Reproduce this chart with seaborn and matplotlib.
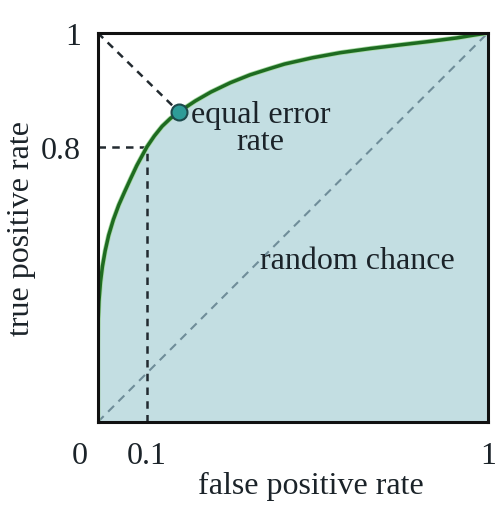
import numpy as np
import pandas as pd
import seaborn as sns
import matplotlib.pyplot as plt
from matplotlib.transforms import ScaledTranslation

# ROC curve (axis fractions)
fpr = [0.0, 0.0, 0.0, 0.001, 0.003, 0.007, 0.012, 0.019, 0.028, 0.040,
       0.054, 0.069, 0.085, 0.100, 0.126, 0.145, 0.165, 0.186, 0.208, 0.250,
       0.290, 0.340, 0.390, 0.440, 0.479, 0.550, 0.621, 0.700, 0.774, 0.850,
       0.920, 0.962, 1.0]
tpr = [0.0, 0.100, 0.200, 0.260, 0.310, 0.360, 0.400, 0.440, 0.480, 0.520,
       0.558, 0.592, 0.627, 0.659, 0.707, 0.735, 0.760, 0.780, 0.797, 0.825,
       0.848, 0.872, 0.892, 0.908, 0.920, 0.936, 0.949, 0.960, 0.969, 0.978,
       0.987, 0.994, 1.0]

# operating point marked by the dashed guides, and the equal error point
op_fpr, op_tpr = 0.126, 0.707
eer_fpr, eer_tpr = 0.208, 0.797

xtick_labels = ['0', '0.1', '1']
ytick_labels = ['0.8', '1']

df = pd.DataFrame({'fpr': fpr, 'tpr': tpr})

sns.set_style('white')
plt.rcParams['font.family'] = ['Liberation Serif', 'DejaVu Serif']
ink = '#1b2329'

fig = plt.figure(figsize=(5.04, 5.06), dpi=100)
ax = fig.add_axes([0.194, 0.164, 0.774, 0.769])

# area under the curve
ax.fill_between(df['fpr'], df['tpr'], 0, color='#c3dee2', zorder=1)

# random chance diagonal
ax.plot([0, 1], [0, 1], ls=(0, (4, 3)), color='#6f8d99', lw=1.5, zorder=2)

# guides to the operating point
ax.plot([0, op_fpr], [op_tpr, op_tpr], ls=(0, (3, 2.5)), color='#222a30', lw=1.8, zorder=3)
ax.plot([op_fpr, op_fpr], [0, op_tpr], ls=(0, (3, 2.5)), color='#222a30', lw=1.8, zorder=3)
ax.plot([0, eer_fpr], [1, eer_tpr], ls=(0, (3, 2.5)), color='#222a30', lw=1.8, zorder=3)

# ROC curve: faint halo under dark green line
sns.lineplot(data=df, x='fpr', y='tpr', ax=ax, sort=False, estimator=None,
             color='#a5d9a2', lw=3.6, zorder=4)
sns.lineplot(data=df, x='fpr', y='tpr', ax=ax, sort=False, estimator=None,
             color='#1e6b21', lw=2.5, zorder=5)

ax.plot([eer_fpr], [eer_tpr], 'o', ms=11.5, mfc='#2e9c98', mec='#1d4a4c',
        mew=1.5, zorder=6)

ax.text(0.418, 0.755, 'equal error\nrate', ha='center', va='center',
        multialignment='center', linespacing=0.9, fontsize=23, color=ink, zorder=7)
ax.text(0.415, 0.415, 'random chance', ha='left', va='center',
        fontsize=23, color=ink, zorder=7)

ax.set_xlim(0, 1)
ax.set_ylim(0, 1)
ax.set_xticks([0, op_fpr, 1])
ax.set_xticklabels(xtick_labels)
ax.set_yticks([op_tpr, 1])
ax.set_yticklabels(ytick_labels)
ax.tick_params(length=0, labelsize=23, labelcolor=ink)
ax.tick_params(axis='x', pad=14)
ax.tick_params(axis='y', pad=12)
# the "0" sits left of the corner
lab0 = ax.get_xticklabels()[0]
lab0.set_transform(lab0.get_transform() + ScaledTranslation(-0.18, 0, fig.dpi_scale_trans))

ax.set_xlabel('false positive rate', fontsize=23, color=ink)
ax.set_ylabel('true positive rate', fontsize=23, color=ink, labelpad=4)
ax.xaxis.set_label_coords(0.545, -0.125)

for s in ax.spines.values():
    s.set_color('#111111')
    s.set_linewidth(2.2)
    s.set_zorder(8)

fig.savefig('out.png', dpi=100)
